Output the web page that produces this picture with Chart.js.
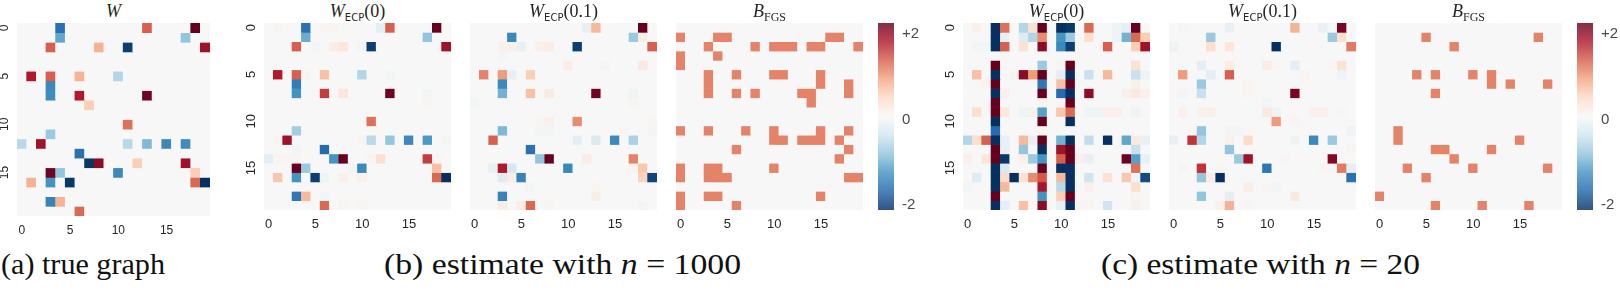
<!DOCTYPE html>
<html><head><meta charset="utf-8">
<script src="https://cdn.jsdelivr.net/npm/chart.js@4.4.1/dist/chart.umd.min.js"></script>
<style>
html,body{margin:0;padding:0;background:#fff;}
body{width:1620px;height:294px;position:relative;overflow:hidden;}
canvas{position:absolute;}
.title{position:absolute;top:0;height:22px;line-height:22px;font-size:18px;color:#262626;white-space:nowrap;transform:translateX(-50%);}
.title i{font-style:italic;}
.title .ss{font-size:10px;position:relative;top:4px;}
.title .sr{font-size:12px;position:relative;top:4px;}
.cbar{position:absolute;width:16px;opacity:0.82;background:linear-gradient(to bottom,#67001f 0%,#b2182b 10%,#d6604d 20%,#f4a582 30%,#fddbc7 40%,#f7f7f7 50%,#d1e5f0 60%,#92c5de 70%,#4393c3 80%,#2166ac 90%,#053061 100%);}
.cbl{position:absolute;font-size:15px;line-height:16px;color:#4a4a4a;}
.cap{position:absolute;top:249px;font-size:30px;line-height:30px;white-space:nowrap;transform-origin:0 0;color:#111;}
</style>
</head>
<body>
<script>
// ---------- data ----------
const COLS = [0,1,2,3,4,5,6,7,8,9,10,11,12,13,14,15,16,17,18,19];
const ROWS = [0,1,2,3,4,5,6,7,8,9,10,11,12,13,14,15,16,17,18,19];
const X_TICKS = [0,5,10,15];
const Y_TICKS = [0,5,10,15];
const CBAR_LABELS = ['+2','0','-2'];
const VMIN = -2, VMAX = 2;

// [row, col, value]; cells not listed are 0
const W_TRUE = [
 [0,4,-1.5],[0,13,1.2],[0,18,2],
 [1,4,-1.05],[1,17,-0.8],
 [2,3,1.2],[2,8,0.7],[2,11,-1.9],[2,19,1.7],
 [5,1,1.6],[5,3,1.2],[5,6,0.7],[5,10,-0.6],
 [6,3,-1.3],
 [7,3,-1.25],[7,6,1.6],[7,13,1.95],
 [8,7,0.5],
 [10,11,1.1],
 [11,3,-0.75],
 [12,0,-0.55],[12,2,1.7],[12,11,-0.55],[12,13,-0.9],[12,15,-1.3],[12,17,-1.25],
 [13,6,-1.5],
 [14,7,-1.95],[14,8,1.8],[14,12,0.5],[14,17,1.7],
 [15,3,1.95],[15,4,-0.8],[15,10,-1.3],[15,18,0.5],
 [16,1,0.7],[16,3,-1.2],[16,5,-1.95],[16,18,1.15],[16,19,-2],
 [18,3,-1.35],[18,4,0.7],
 [19,6,1.15]
];

const W_ECP0_N1000 = [
 [0,1,0.05],[0,4,-1.5],[0,6,0.05],[0,7,0.05],[0,12,-0.2],[0,13,1.2],[0,18,2],
 [1,4,-1.0],[1,17,-0.8],
 [2,3,1.2],[2,5,-0.05],[2,7,0.15],[2,8,0.25],[2,10,-0.05],[2,11,-1.9],[2,19,1.7],
 [5,1,1.6],[5,3,1.2],[5,4,0.05],[5,6,0.6],[5,10,-0.6],[5,13,-0.05],
 [6,3,-1.4],
 [7,3,-1.2],[7,6,1.4],[7,8,0.25],[7,13,1.95],[7,17,-0.05],
 [8,17,0.05],
 [10,11,1.1],
 [11,3,-0.7],
 [12,1,0.05],[12,2,1.7],[12,10,0.05],[12,11,-0.55],[12,13,-0.8],[12,15,-1.3],[12,17,-1.15],[12,19,-0.05],
 [13,3,-0.05],[13,6,-1.55],
 [14,0,-0.2],[14,1,0.05],[14,2,0.05],[14,3,0.05],[14,7,-1.2],[14,8,2],[14,11,0.05],[14,12,0.35],[14,17,1.4],[14,18,0.05],
 [15,3,2],[15,4,-0.75],[15,9,-0.05],[15,10,-1.3],[15,18,0.6],
 [16,1,0.55],[16,3,-1.2],[16,5,-1.9],[16,6,-0.1],[16,8,0.1],[16,10,0.1],[16,18,1.15],[16,19,-2],
 [18,3,-1.45],[18,4,0.65],[18,6,-0.05],
 [19,6,1.15],[19,8,0.05],[19,10,0.05]
];

const W_ECP01_N1000 = [
 [0,12,-0.15],[0,13,0.65],[0,18,2],
 [1,4,-1.3],[1,17,-0.75],[1,18,0.15],
 [2,3,0.1],[2,4,0.1],[2,5,-0.15],[2,7,0.1],[2,8,0.15],[2,11,-1.9],[2,19,1.2],
 [3,3,-0.05],
 [4,10,0.15],[4,14,-0.05],[4,18,0.2],
 [5,1,1.0],[5,3,0.85],[5,4,-0.15],[5,6,0.5],
 [6,3,-1.3],
 [7,3,-0.95],[7,6,0.6],[7,8,0.2],[7,13,1.95],[7,17,-0.1],
 [8,0,-0.05],[8,17,0.05],
 [10,7,0.05],[10,8,0.1],[10,11,0.95],[10,19,0.05],
 [11,3,-0.9],[11,7,-0.05],[11,8,-0.05],[11,16,0.05],[11,19,-0.05],
 [12,2,1.2],[12,11,-0.2],[12,13,-0.3],[12,15,-1.3],[12,17,-0.65],
 [13,6,-1.5],
 [14,7,-0.8],[14,8,2],[14,12,0.15],[14,17,1.0],
 [15,2,-0.15],[15,3,1.6],[15,4,-0.35],[15,10,-1.3],[15,17,0.05],[15,18,0.55],
 [16,3,-0.25],[16,4,0.15],[16,5,-1.35],[16,18,0.45],[16,19,-1.85],
 [17,6,-0.05],[17,13,0.05],
 [18,3,-1.35],[18,13,0.15],
 [19,3,0.15],[19,5,0.15],[19,6,1.15],[19,8,0.05],[19,18,-0.05]
];

// B_FGS: columns set to 1, listed per row
const B_FGS_N1000 = [
 [],[0,4,5,16,17],[3,8,10,11,12,14,15,19],[0,4],[0],
 [3,6,10,11,15],[3,15,18],[3,6,8,13,14,18],[14],[],
 [],[0,3,7,10,15,18],[10,11,13,14,15,17],[6,18],[17],
 [0,3,4,10],[0,3,4,5,18,19],[],[0,3,4,15],[0,6]
];

const W_ECP0_N20 = [
 [0,1,0.1],[0,3,-2],[0,4,1.1],[0,6,-0.6],[0,7,0.3],[0,8,2],[0,10,-2],[0,11,-1.95],[0,13,1.15],[0,16,-0.1],[0,17,-0.2],[0,18,2],
 [1,3,-2],[1,4,-0.15],[1,6,-0.25],[1,7,-0.6],[1,8,0.95],[1,10,-1.2],[1,11,-0.75],[1,13,0.35],[1,16,-0.1],[1,17,-0.95],[1,18,1.15],[1,19,0.5],
 [2,1,-0.05],[2,2,-0.05],[2,3,-2],[2,4,1.2],[2,6,0.3],[2,8,1.8],[2,10,-1.3],[2,11,-1.9],[2,15,1.2],[2,18,0.5],[2,19,1.7],
 [4,3,2],[4,8,-0.75],[4,10,0.05],[4,11,2],[4,18,0.3],
 [5,1,0.6],[5,3,-2],[5,5,0.05],[5,6,1.8],[5,7,0.85],[5,8,2],[5,10,-0.2],[5,11,-2],[5,13,-0.45],[5,15,0.65],[5,18,-0.45],[5,19,-0.1],
 [6,2,0.05],[6,3,2],[6,8,-1.45],[6,10,0.6],[6,11,2],[6,18,0.1],
 [7,3,-2],[7,4,0.1],[7,8,2],[7,10,-1.55],[7,11,-2],[7,13,1.8],[7,17,0.1],[7,18,0.2],[7,19,0.1],
 [8,3,2],[8,8,0.05],[8,10,0.05],[8,11,2],
 [9,1,0.35],[9,3,2],[9,4,0.2],[9,6,-0.1],[9,7,0.1],[9,8,-1.1],[9,10,0.55],[9,11,1.15],[9,13,-0.1],[9,14,-0.1],[9,15,0.1],[9,16,0.1],[9,18,-0.1],
 [10,3,-2],[10,8,2],[10,11,-2],
 [11,3,-1.55],[11,8,0.05],
 [12,0,-0.6],[12,1,0.35],[12,2,1.2],[12,3,-2],[12,4,-0.15],[12,6,0.65],[12,7,-0.15],[12,8,2],[12,10,-0.95],[12,11,-2],[12,13,-0.5],[12,15,-2],[12,17,-1.05],[12,18,0.2],[12,19,-0.15],
 [13,3,2],[13,4,-0.15],[13,6,-0.8],[13,8,-2],[13,10,1.7],[13,11,2],[13,18,-0.45],
 [14,0,0.1],[14,2,0.25],[14,3,2],[14,4,-1.95],[14,6,0.1],[14,7,-0.75],[14,8,-1.2],[14,10,1.2],[14,11,2],[14,12,0.1],[14,13,-0.15],[14,17,1.95],[14,18,-1.1],[14,19,-0.15],
 [15,3,-2],[15,4,-0.3],[15,8,2],[15,10,-2],[15,11,-2],[15,18,1.1],
 [16,1,-0.25],[16,3,-2],[16,4,0.4],[16,5,-2],[16,6,0.3],[16,7,0.95],[16,8,1.25],[16,10,0.65],[16,11,-2],[16,13,-0.4],[16,15,0.3],[16,17,0.55],[16,18,-0.1],[16,19,-1.8],
 [17,0,-0.05],[17,3,-2],[17,4,0.65],[17,8,1.65],[17,10,-0.55],[17,11,-2],[17,13,0.1],[17,18,0.35],
 [18,3,2],[18,8,-1.2],[18,10,0.5],[18,11,2],[18,18,0.05],
 [19,3,-2],[19,4,-0.2],[19,6,0.6],[19,8,1.8],[19,10,-0.15],[19,11,-2],[19,12,0.05],[19,13,0.05],[19,15,-0.4],[19,18,0.1]
];

const W_ECP01_N20 = [
 [0,1,0.05],[0,6,-0.15],[0,13,0.7],[0,16,-0.15],[0,18,1.9],
 [1,4,-0.75],[1,17,-0.75],[1,18,0.35],
 [2,0,-0.1],[2,4,0.35],[2,6,0.25],[2,11,-2],[2,19,1.05],
 [4,3,-0.2],[4,6,0.15],[4,10,0.15],[4,11,0.05],[4,13,-0.2],[4,17,0.05],[4,18,0.3],
 [5,1,0.85],[5,4,-0.2],[5,6,1.2],[5,14,0.05],[5,18,-0.1],
 [6,3,-0.75],[6,8,0.05],
 [7,1,-0.05],[7,3,-0.45],[7,8,0.05],[7,13,1.9],
 [8,10,-0.05],
 [9,1,0.1],[9,3,0.1],[9,4,0.1],[9,10,0.2],[9,11,-0.1],[9,15,0.1],[9,16,0.1],[9,18,0.05],
 [10,11,0.85],[10,13,0.05],
 [11,3,-0.8],[11,6,-0.05],[11,7,-0.05],[11,19,-0.1],
 [12,0,-0.15],[12,2,1.45],[12,3,-0.6],[12,6,0.1],[12,8,0.4],[12,13,-0.1],[12,15,-1.3],[12,17,-0.75],
 [13,6,-0.8],[13,19,0.05],
 [14,7,-0.75],[14,8,1.7],[14,12,0.05],[14,17,1.85],
 [15,1,-0.05],[15,3,1.45],[15,5,0.05],[15,10,-1.45],[15,16,0.05],[15,17,0.05],[15,18,1.05],[15,19,-0.2],
 [16,3,-0.8],[16,4,0.15],[16,5,-2],[16,19,-1.5],
 [17,8,0.15],[17,10,0.05],[17,11,-0.05],
 [18,3,-0.8],[18,6,-0.2],[18,13,0.2],
 [19,5,0.1],[19,6,0.7],[19,8,0.05]
];

const B_FGS_N20 = [
 [],[5,17],[8],[],[],
 [4,6,10,12],[12,14,18],[6],[],[],
 [],[2],[2,15],[6,7,12],[8],
 [3,10,18],[5],[],[0],[6,11,16]
];

// ---------- font detection ----------
function hasFont(name){
  const c = document.createElement('canvas').getContext('2d');
  const s = 'abcdefghijklmnopqrstuvwxyzW(0)1234567';
  const res = [];
  ['monospace','sans-serif'].forEach(g=>{
    c.font = '40px ' + g; const a = c.measureText(s).width;
    c.font = '40px "' + name + '", ' + g; const b = c.measureText(s).width;
    res.push(a !== b);
  });
  return res[0] || res[1];
}
function pick(list, generic){
  for (const f of list) if (hasFont(f)) return '"' + f + '", ' + generic;
  return generic;
}
const SERIF = pick(['Liberation Serif','DejaVu Serif','Noto Serif','Tinos','Times New Roman','FreeSerif'], 'serif');
const SANS = pick(['Liberation Sans','Arimo','DejaVu Sans','Noto Sans'], 'sans-serif');
const MSANS = pick(['DejaVu Sans','Liberation Sans','Noto Sans'], 'sans-serif');
const TICK_FONT = SANS;

// ---------- helpers ----------
function gridFromTriples(tr){
  const g = ROWS.map(()=>COLS.map(()=>0));
  tr.forEach(([r,c,v])=>{ g[r][c]=v; });
  return g;
}
function gridFromRows(rows){
  const g = ROWS.map(()=>COLS.map(()=>0));
  rows.forEach((cs,r)=>cs.forEach(c=>{ g[r][c]=1; }));
  return g;
}
const RDBU_R = [[5,48,97],[33,102,172],[67,147,195],[146,197,222],[209,229,240],[247,247,247],[253,219,199],[244,165,130],[214,96,77],[178,24,43],[103,0,31]];
function cmap(v){
  const t = (Math.max(VMIN,Math.min(VMAX,v))-VMIN)/(VMAX-VMIN)*10;
  const i = Math.min(9,Math.floor(t)), f = t-i;
  const a = RDBU_R[i], b = RDBU_R[i+1];
  return 'rgb('+[0,1,2].map(k=>Math.round(a[k]+(b[k]-a[k])*f)).join(',')+')';
}

const PADL = 22, PADR = 6, PADB = 28;

function makeHeatmap(spec, grid){
  const cv = document.createElement('canvas');
  const W = spec.size + PADL + PADR, H = spec.size + PADB;
  cv.width = W; cv.height = H;
  cv.style.left = (spec.left - PADL) + 'px';
  cv.style.top = spec.top + 'px';
  cv.style.width = W + 'px'; cv.style.height = H + 'px';
  document.body.appendChild(cv);
  const yLabels = {
    id: 'yLabels',
    afterDraw(chart){
      if (!spec.ylabels) return;
      const ctx = chart.ctx, ys = chart.scales.y, area = chart.chartArea;
      ctx.save();
      ctx.fillStyle = '#262626';
      ctx.font = spec.font + 'px ' + TICK_FONT;
      ctx.textAlign = 'center'; ctx.textBaseline = 'middle';
      Y_TICKS.forEach(r=>{
        const y = ys.getPixelForValue(r + 0.5);
        ctx.save();
        ctx.translate(area.left - 12.5, y);
        ctx.rotate(-Math.PI/2);
        ctx.fillText(String(ROWS[r]), 0, 0);
        ctx.restore();
      });
      ctx.restore();
    }
  };
  new Chart(cv, {
    type: 'bar',
    data: {
      labels: COLS,
      datasets: ROWS.map(r=>({
        data: COLS.map(()=>[r, r+1]),
        backgroundColor: COLS.map(c=>cmap(grid[r][c])),
        borderWidth: 0,
        inflateAmount: 0.33,
        barPercentage: 1,
        categoryPercentage: 1,
        grouped: false
      }))
    },
    options: {
      responsive: false, animation: false, devicePixelRatio: 1,
      layout: {padding: {left: PADL, right: PADR, top: 0, bottom: 0}},
      plugins: {legend: {display: false}, tooltip: {enabled: false}},
      scales: {
        x: {
          type: 'category', offset: true,
          grid: {display: false, drawTicks: false},
          border: {display: false},
          ticks: {
            autoSkip: false, maxRotation: 0, minRotation: 0, padding: spec.tickPad,
            color: '#262626', font: {family: TICK_FONT, size: spec.font},
            callback: (v, i) => X_TICKS.includes(i) ? String(COLS[i]) : ''
          },
          afterFit: s => { s.height = PADB; s.paddingLeft = 0; s.paddingRight = 0; s.paddingTop = 0; s.paddingBottom = 0; }
        },
        y: {type: 'linear', display: false, min: 0, max: 20, reverse: true}
      }
    },
    plugins: [yLabels]
  });
}

function addTitle(cx, html){
  const d = document.createElement('div');
  d.className = 'title'; d.style.left = cx + 'px'; d.innerHTML = html;
  d.style.fontFamily = SERIF;
  d.querySelectorAll('.ss').forEach(e=>{ e.style.fontFamily = MSANS; });
  d.querySelectorAll('.sr').forEach(e=>{ e.style.fontFamily = SERIF; });
  document.body.appendChild(d);
}
function addColorbar(x, top, h){
  const b = document.createElement('div');
  b.className = 'cbar'; b.style.left = x + 'px'; b.style.top = top + 'px'; b.style.height = h + 'px';
  document.body.appendChild(b);
  const ys = [top + 2, top + h/2 - 6, top + h - 14];
  CBAR_LABELS.forEach((t, i)=>{
    const l = document.createElement('div');
    l.className = 'cbl'; l.textContent = t; l.style.fontFamily = SANS;
    l.style.left = (x + 24) + 'px'; l.style.top = ys[i] + 'px';
    document.body.appendChild(l);
  });
}

const T_W = '<i>W</i>';
const T_ECP0 = '<i>W</i><span class="ss">ECP</span>(0)';
const T_ECP01 = '<i>W</i><span class="ss">ECP</span>(0.1)';
const T_FGS = '<i>B</i><span class="sr">FGS</span>';

const panels = [
  {left: 17, top: 23, size: 193, font: 12, tickPad: 7, ylabels: true, title: T_W, grid: gridFromTriples(W_TRUE)},
  {left: 264, top: 23, size: 187, font: 13, tickPad: 7, ylabels: true, title: T_ECP0, grid: gridFromTriples(W_ECP0_N1000)},
  {left: 470, top: 23, size: 187, font: 13, tickPad: 7, ylabels: false, title: T_ECP01, grid: gridFromTriples(W_ECP01_N1000)},
  {left: 676, top: 23, size: 187, font: 13, tickPad: 7, ylabels: false, title: T_FGS, grid: gridFromRows(B_FGS_N1000)},
  {left: 963, top: 23, size: 187, font: 13, tickPad: 7, ylabels: true, title: T_ECP0, grid: gridFromTriples(W_ECP0_N20)},
  {left: 1169, top: 23, size: 187, font: 13, tickPad: 7, ylabels: false, title: T_ECP01, grid: gridFromTriples(W_ECP01_N20)},
  {left: 1375, top: 23, size: 187, font: 13, tickPad: 7, ylabels: false, title: T_FGS, grid: gridFromRows(B_FGS_N20)}
];
panels.forEach(p=>{
  makeHeatmap(p, p.grid);
  addTitle(p.left + p.size/2, p.title);
});
addColorbar(878, 23, 187);
addColorbar(1577, 23, 187);

const captions = [
  {x: 1, w: 164, html: '(a) true graph'},
  {x: 384, w: 357, html: '(b) estimate with <i>n</i> = 1000'},
  {x: 1101, w: 319, html: '(c) estimate with <i>n</i> = 20'}
];
captions.forEach(c=>{
  const d = document.createElement('div');
  d.className = 'cap'; d.style.left = c.x + 'px'; d.innerHTML = c.html;
  d.style.fontFamily = SERIF;
  document.body.appendChild(d);
  const w = d.getBoundingClientRect().width;
  d.style.transform = 'scaleX(' + (c.w / w) + ')';
});
</script>
</body></html>
